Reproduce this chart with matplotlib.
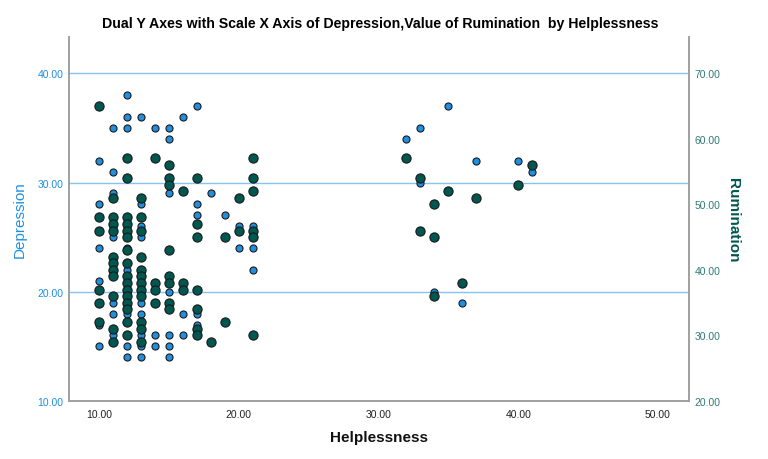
import matplotlib
matplotlib.use("Agg")
import matplotlib.pyplot as plt
from matplotlib.ticker import FormatStrFormatter

plt.rcParams['font.family'] = ['Liberation Sans', 'DejaVu Sans']

## Depression (left axis) - helplessness score and value per point
dep_help = ([10]*6 + [11]*8 + [12]*9 + [13]*9 + [14]*3 + [15]*7 + [16]*3 + [17]*5
            + [18] + [19] + [20]*2 + [21]*3
            + [32, 33, 33, 35, 37, 40, 41, 34, 36])
dep_vals = ([32, 28, 24, 21, 17, 15]
            + [35, 31, 29, 26, 25, 19, 18, 16]
            + [38, 36, 35, 26, 24, 22, 18, 15, 14]
            + [36, 28, 26, 25, 19, 18, 16, 15, 14]
            + [35, 16, 15]
            + [35, 34, 29, 20, 16, 15, 14]
            + [36, 18, 16]
            + [37, 28, 27, 18, 17]
            + [29] + [27] + [26, 24] + [26, 24, 22]
            + [34, 35, 30, 37, 32, 32, 31, 20, 19])

## Rumination (right axis)
rum_help = ([10]*6 + [11]*11 + [12]*16 + [13]*12 + [14]*4 + [15]*8 + [16]*3 + [17]*7
            + [18] + [19]*2 + [20]*2 + [21]*6
            + [32, 41, 33, 40, 35, 37, 34, 33, 34, 36, 34])
rum_vals = ([65, 48, 46, 37, 35, 32]
            + [51, 48, 47, 46, 42, 41, 40, 39, 36, 31, 29]
            + [57, 54, 48, 47, 46, 45, 43, 41, 39, 38, 37, 36, 35, 34, 32, 30]
            + [51, 48, 46, 42, 40, 39, 38, 37, 36, 32, 31, 29]
            + [57, 38, 37, 35]
            + [56, 54, 53, 43, 39, 38, 35, 34]
            + [52, 38, 37]
            + [54, 47, 45, 37, 34, 31, 30]
            + [29] + [45, 32] + [51, 46] + [57, 54, 52, 46, 45, 30]
            + [57, 56, 54, 53, 52, 51, 50, 46, 45, 38, 36])

blue = '#1e8fe1'
teal = '#00574f'
grey = '#a0a0a0'

fig = plt.figure(figsize=(7.68, 4.6), dpi=100)
ax = fig.add_axes([0.0898, 0.126, 0.807, 0.791])
ax2 = ax.twinx()

ax.scatter(dep_help, dep_vals, s=26, color=blue, edgecolors='#1a1a1a', linewidths=0.8, zorder=3)
ax2.scatter(rum_help, rum_vals, s=44, color=teal, edgecolors='#1a1a1a', linewidths=0.8, zorder=3)

ax.set_xlim(7.86, 52.2)
ax.set_ylim(10, 43.3)
ax2.set_ylim(20, 75.5)

ax.set_xticks([10, 20, 30, 40, 50])
ax.set_yticks([10, 20, 30, 40])
ax2.set_yticks([20, 30, 40, 50, 60, 70])
for a in (ax, ax2):
    a.xaxis.set_major_formatter(FormatStrFormatter('%.2f'))
    a.yaxis.set_major_formatter(FormatStrFormatter('%.2f'))

ax.yaxis.grid(True, color='#86c4ef', linewidth=1.0)
ax.set_axisbelow(True)

for a in (ax, ax2):
    a.spines['top'].set_visible(False)
    for side in ('left', 'right', 'bottom'):
        a.spines[side].set_color(grey)
        a.spines[side].set_linewidth(1.2)

ax.tick_params(axis='x', length=0, pad=6, labelsize=7.5, labelcolor='#222222')
ax.tick_params(axis='y', length=0, pad=4, labelsize=7.5, labelcolor=blue)
ax2.tick_params(axis='y', length=0, pad=4, labelsize=7.5, labelcolor='#2f7a76')

ax.set_xlabel('Helplessness', fontsize=11, color='#111111', fontweight='bold', labelpad=8)
ax.set_ylabel('Depression', fontsize=11, color=blue, labelpad=8)
ax2.set_ylabel('Rumination', fontsize=11, color=teal, fontweight='bold', rotation=270, labelpad=14)

fig.suptitle('Dual Y Axes with Scale X Axis of Depression,Value of Rumination  by Helplessness',
             fontsize=10.2, fontweight='bold', x=0.495, y=0.963)

fig.savefig('out.png', dpi=100)
